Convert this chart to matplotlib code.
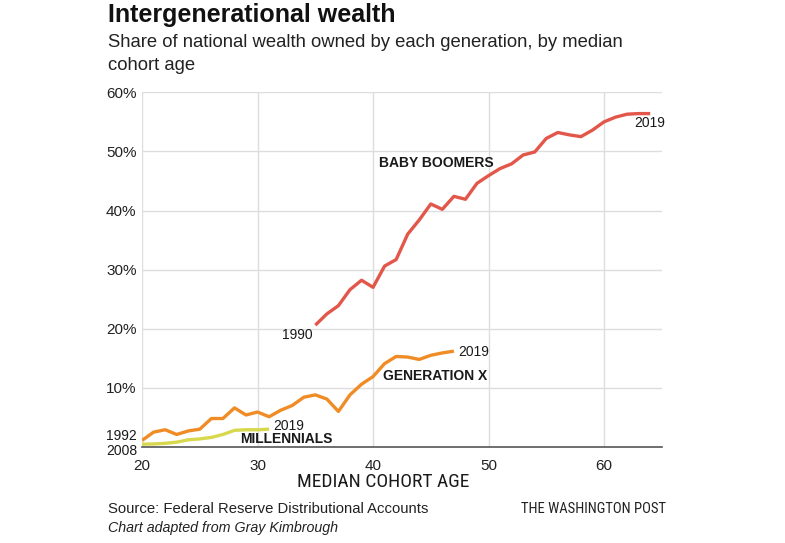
import matplotlib
matplotlib.use("Agg")
import matplotlib.pyplot as plt
from matplotlib.ticker import FuncFormatter

# share of national wealth (%) by median cohort age
boomer_ages = list(range(35, 65))
boomer_share = [20.6, 22.5, 23.9, 26.6, 28.2, 27.0, 30.6, 31.7, 36.0, 38.4,
                41.1, 40.2, 42.4, 41.9, 44.6, 45.9, 47.1, 47.9, 49.4, 49.9,
                52.2, 53.2, 52.8, 52.5, 53.6, 55.0, 55.8, 56.3, 56.4, 56.4]

genx_ages = list(range(20, 48))
genx_share = [1.1, 2.5, 2.9, 2.1, 2.7, 3.0, 4.8, 4.8, 6.6, 5.4,
              5.9, 5.1, 6.2, 7.0, 8.4, 8.8, 8.1, 6.0, 8.8, 10.6,
              11.9, 14.1, 15.3, 15.2, 14.8, 15.5, 15.9, 16.2]

mill_ages = list(range(20, 32))
mill_share = [0.45, 0.5, 0.6, 0.8, 1.2, 1.35, 1.6, 2.1, 2.8, 2.9, 2.9, 3.0]

x_ticks = [20, 30, 40, 50, 60]
y_ticks = [10, 20, 30, 40, 50, 60]

RED = "#e3574b"
ORANGE = "#f08c26"
YELLOW = "#d8d84e"
INK = "#1a1a1a"

NARROW = ["Roboto Condensed", "Liberation Sans Narrow", "DejaVu Sans"]
SANS = ["Liberation Sans", "DejaVu Sans"]


def label(ax, x, y, txt, ha="left", bold=False):
    ax.text(x, y, txt, fontsize=10, ha=ha, va="center", color=INK,
            fontweight="bold" if bold else "normal")


def main():
    plt.rcParams["font.family"] = SANS
    fig = plt.figure(figsize=(7.85, 5.43), dpi=100, facecolor="w")
    ax = fig.add_axes([0.181, 0.177, 0.662, 0.653])

    for ages, share, col in [(boomer_ages, boomer_share, RED),
                             (genx_ages, genx_share, ORANGE),
                             (mill_ages, mill_share, YELLOW)]:
        ax.plot(ages, share, color=col, linewidth=2.4,
                solid_capstyle="butt", solid_joinstyle="round", zorder=3)

    ax.set_xlim(20, 65)
    ax.set_ylim(0, 60)
    ax.set_xticks(x_ticks)
    ax.set_yticks(y_ticks)
    ax.yaxis.set_major_formatter(FuncFormatter(lambda v, p: "%d%%" % v))
    ax.tick_params(length=0, labelsize=11, colors="#222222", pad=4)
    ax.tick_params(axis="x", pad=9)
    ax.grid(True, color="#dddddd", linewidth=1)
    ax.set_axisbelow(True)
    for side in ["top", "right", "left"]:
        ax.spines[side].set_visible(False)
    ax.spines["bottom"].set_color("#555555")
    ax.spines["bottom"].set_linewidth(1.2)

    ax.set_xlabel("MEDIAN COHORT AGE", fontsize=14, family=NARROW,
                  color=INK, va="center")
    ax.xaxis.set_label_coords(0.463, -0.099)

    # series labels
    label(ax, 40.5, 48.0, "BABY BOOMERS", bold=True)
    label(ax, 40.85, 12.0, "GENERATION X", bold=True)
    label(ax, 28.5, 1.35, "MILLENNIALS", bold=True)

    # year labels
    label(ax, 34.8, 18.9, "1990", ha="right")
    label(ax, 63.96, 54.8, "2019", ha="center")
    label(ax, 47.35, 16.05, "2019")
    label(ax, 31.4, 3.55, "2019")
    label(ax, 19.57, 1.86, "1992", ha="right")
    label(ax, 19.57, -0.68, "2008", ha="right")

    # title block
    fig.text(0.137, 0.960, "Intergenerational wealth", fontsize=18,
             fontweight="bold", color="#111111", va="baseline")
    fig.text(0.137, 0.913, "Share of national wealth owned by each generation, by median",
             fontsize=13.3, color="#222222", va="baseline")
    fig.text(0.137, 0.871, "cohort age",
             fontsize=13.3, color="#222222", va="baseline")

    # footer
    fig.text(0.137, 0.055, "Source: Federal Reserve Distributional Accounts",
             fontsize=10.7, color="#222222", va="baseline")
    fig.text(0.137, 0.020, "Chart adapted from Gray Kimbrough",
             fontsize=10.3, style="italic", color="#222222", va="baseline")
    fig.text(0.848, 0.055, "THE WASHINGTON POST", fontsize=10.5,
             family=NARROW, color="#222222", va="baseline", ha="right")

    fig.savefig("out.png", dpi=100, facecolor="w")


if __name__ == '__main__':
    main()
